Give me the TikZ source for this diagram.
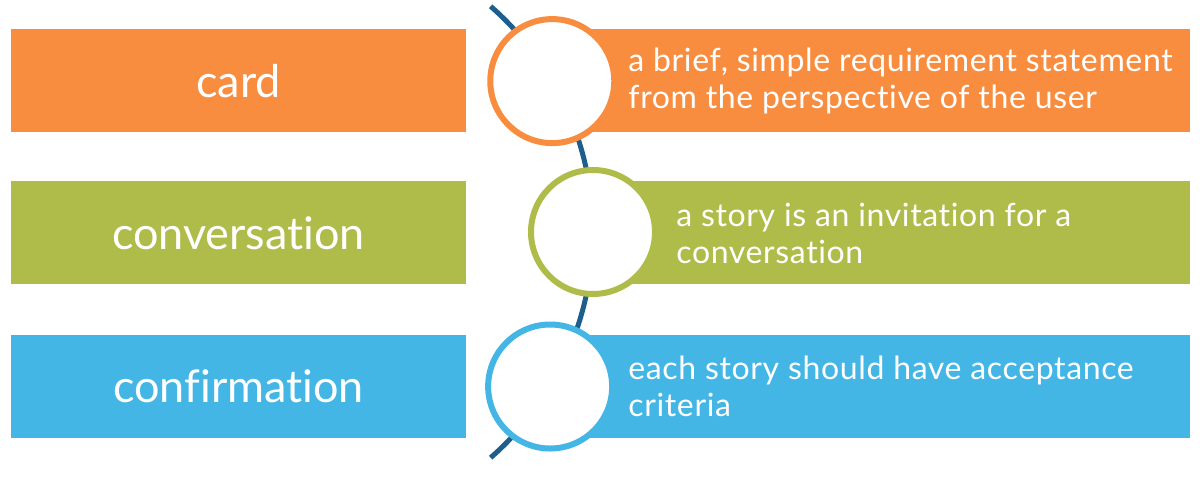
\documentclass[tikz,border=0pt]{standalone}
\usepackage{fontspec}
\setmainfont{Lato}[Ligatures={NoCommon}]
\usepackage{tikz}
\usetikzlibrary{positioning, calc}

\definecolor{cardorange}{HTML}{F88D40}
\definecolor{convgreen}{HTML}{B0BC4A}
\definecolor{confblue}{HTML}{43B6E6}
\definecolor{spine}{HTML}{1E5E8C}

\tikzset{
  termbox/.style={fill=#1, text=white, minimum width=227.5pt, minimum height=51.5pt,
    inner sep=0pt, font=\fontsize{22.5}{26}\selectfont},
  notebox/.style={fill=#1, minimum height=51.5pt, inner sep=0pt},
  notetext/.style={text=white, anchor=west, align=left, inner sep=0pt,
    font=\fontsize{16}{18.5}\selectfont\addfontfeatures{LetterSpace=2}},
  ring/.style={circle, draw=#1, fill=white, line width=3pt, minimum size=62pt, inner sep=0pt}
}

\begin{document}
\begin{tikzpicture}[x=0.5pt, y=0.5pt]
  \useasboundingbox (0,0) rectangle (1200,498);

  % spine of the three circles
  \coordinate (hub) at (293,266);
  \coordinate (pc) at ($(hub)+(30.2:300)$);
  \coordinate (pv) at ($(hub)+(0:300)$);
  \coordinate (pf) at ($(hub)+(-31:300)$);

  % right-hand bands
  \node[notebox=cardorange, minimum width=319pt] (nb1) at (871,417) {};
  \node[notebox=convgreen, minimum width=297.5pt] (nb2) at (892.5,265) {};
  \node[notebox=confblue, minimum width=320pt] (nb3) at (870,111.5) {};

  \draw[spine, line width=2.5pt] (hub) ++(48.8:300) arc[start angle=48.8, end angle=-48.8, radius=300];

  \node[ring=cardorange] (r1) at (pc) {};
  \node[ring=convgreen] (r2) at (pv) {};
  \node[ring=confblue] (r3) at (pf) {};

  % left-hand terms
  \node[termbox=cardorange] (t1) at (238.5,417) {card};
  \node[termbox=convgreen] (t2) at (238.5,265) {conversation};
  \node[termbox=confblue] (t3) at (238.5,111.5) {confirmation};

  \node[notetext] (d1) at (628,417) {a brief, simple requirement statement\\from the perspective of the user};
  \node[notetext] (d2) at (676,265) {a story is an invitation for a\\conversation};
  \node[notetext] (d3) at (628,111.5) {each story should have acceptance\\criteria};
\end{tikzpicture}
\end{document}
